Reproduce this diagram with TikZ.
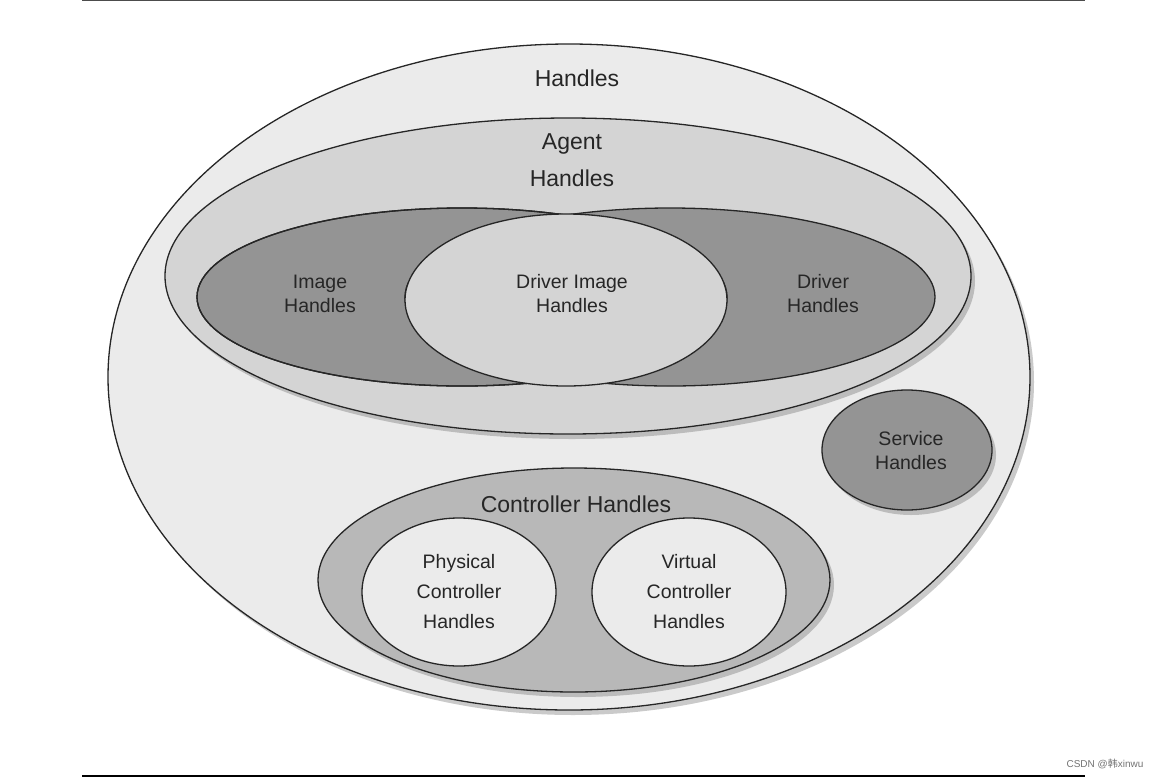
\documentclass[tikz,border=0pt]{standalone}
\usepackage{fontspec}
\setmainfont{Liberation Sans}
\newfontfamily\cjk{Noto Sans CJK SC}
\usetikzlibrary{shadows,shapes.geometric}
\begin{document}
\begin{tikzpicture}[x=1pt,y=-1pt,
  el/.style={draw=black!85,line width=1.3pt,ellipse,inner sep=0pt},
  sh/.style={drop shadow={shadow xshift=4pt,shadow yshift=-5pt,opacity=0.35,fill=black!60}},
  lbl/.style={font=\fontsize{19.5}{24}\selectfont,align=center,text=black!85},
  big/.style={font=\fontsize{23}{30}\selectfont}]
\useasboundingbox (0,0) rectangle (1168,780);
\draw[black!70,line width=0.8pt] (82,0.5) -- (1085,0.5);
\draw[black,line width=1.6pt] (82,776) -- (1085,776);
\node[el,sh,fill=black!8,minimum width=922pt,minimum height=666pt] (outer) at (569,377) {};
\node[el,sh,fill=black!17,minimum width=806pt,minimum height=316pt] (agent) at (568,276) {};
\node[el,fill=black!42,minimum width=530pt,minimum height=178pt] (img) at (462,297) {};
\node[el,fill=black!42,minimum width=530pt,minimum height=178pt] (drv) at (670,297) {};
\draw[draw=black!85,line width=1.3pt] (img.center) ellipse [x radius=265pt,y radius=89pt];
\node[el,fill=black!17,minimum width=322pt,minimum height=172pt] (di) at (566,300) {};
\node[el,sh,fill=black!42,minimum width=170pt,minimum height=120pt] (svc) at (907,450) {};
\node[el,sh,fill=black!28,minimum width=512pt,minimum height=224pt] (ctl) at (574,580) {};
\node[el,fill=black!8,minimum width=194pt,minimum height=148pt] (phy) at (459,592) {};
\node[el,fill=black!8,minimum width=194pt,minimum height=148pt] (vir) at (689,592) {};
\node[lbl,big] (t1) at (577,78) {Handles};
\node[lbl,big,font=\fontsize{23}{37}\selectfont] (t2) at (572,160) {Agent\\Handles};
\node[lbl] (t3) at (320,294) {Image\\Handles};
\node[lbl] (t4) at (572,294) {Driver Image\\Handles};
\node[lbl] (t5) at (823,294) {Driver\\Handles};
\node[lbl] (t6) at (911,451) {Service\\Handles};
\node[lbl,big] (t7) at (576,504) {Controller Handles};
\node[lbl,font=\fontsize{19.5}{30}\selectfont] (t8) at (459,592) {Physical\\Controller\\Handles};
\node[lbl,font=\fontsize{19.5}{30}\selectfont] (t9) at (689,592) {Virtual\\Controller\\Handles};
\node[font=\fontsize{10}{11}\selectfont,text=black!55] (wm) at (1105,764) {CSDN @{\cjk 韩}xinwu};
\end{tikzpicture}
\end{document}
